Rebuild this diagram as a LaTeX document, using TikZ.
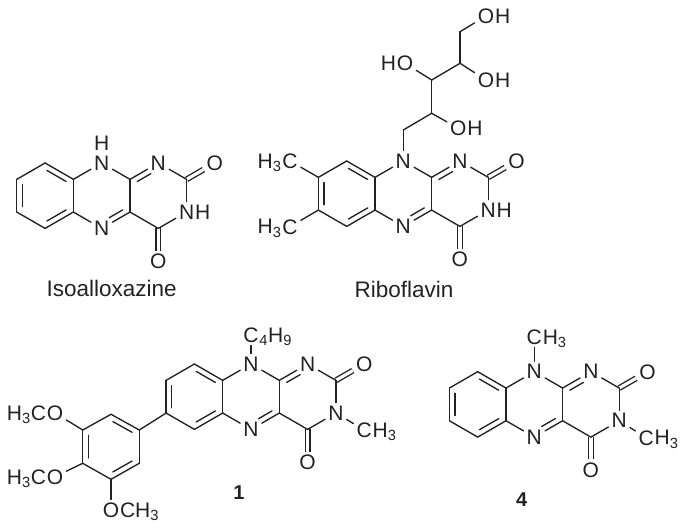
\documentclass[tikz,border=0pt]{standalone}
\usepackage{fontspec}
\setmainfont{Liberation Sans}
\usetikzlibrary{positioning,calc}
\definecolor{ink}{HTML}{222222}
\newcommand{\dbl}[3][0.16]{\draw[bond]($(#2)!0.16!(#3)!5.5pt!-90:(#3)$)--($(#3)!#1!(#2)!5.5pt!90:(#2)$);}
\tikzset{
bond/.style={draw=ink,line width=1.35pt,line cap=round},
cobond/.style={draw=ink,line width=1.35pt,double,double distance=3.2pt},
atom/.style={inner sep=3pt,text=ink,text depth=0pt,font=\fontsize{21}{25}\selectfont},
tail/.style={inner sep=0pt,text=ink,text depth=0pt,font=\fontsize{21}{25}\selectfont},
caption/.style={inner sep=0pt,text=ink,text depth=0pt,font=\fontsize{22.5}{26}\selectfont},
compound/.style={inner sep=0pt,text=ink,font=\fontsize{20}{24}\selectfont\bfseries},
flavin/.pic={
\path
(0,0) node[atom] (-n10) {N}
(28.3,16.35) coordinate (-c10a)
(28.3,49.05) coordinate (-c4a)
(0,65.4) node[atom] (-n5) {N}
(-28.3,49.05) coordinate (-c5a)
(-28.3,16.35) coordinate (-c9a)
(-56.6,0) coordinate (-c9)
(-84.9,16.35) coordinate (-c8)
(-84.9,49.05) coordinate (-c7)
(-56.6,65.4) coordinate (-c6)
(56.6,0) node[atom] (-n1) {N}
(84.9,16.35) coordinate (-c2)
(84.9,49.05) node[atom] (-n3) {N}
(56.6,65.4) coordinate (-c4)
(113.2,0) node[atom] (-o2) {O}
(56.6,98.1) node[atom] (-o4) {O}
;
\draw[cobond] (-c2)--(-o2);
\draw[cobond] (-c4)--(-o4);
\foreach \a/\b in {n10/c10a,c10a/n1,n1/c2,c2/n3,n3/c4,c4/c4a,c4a/c10a,c4a/n5,n5/c5a,c5a/c9a,c9a/n10,c9a/c9,c9/c8,c8/c7,c7/c6,c6/c5a}
\draw[bond] (-\a)--(-\b);
\dbl{-c9}{-c9a}
\dbl{-c7}{-c8}
\dbl{-c5a}{-c6}
\dbl[0.36]{-c10a}{-n1}
\dbl[0.36]{-c4a}{-n5}
}
}
\begin{document}
\begin{tikzpicture}[x=1pt,y=-1pt]
\useasboundingbox (0,0) rectangle (685,529);
% isoalloxazine
\pic (iso) at (101.7,163) {flavin};
\node[tail,above=2pt of iso-n10] (iso-h10) {H};
\node[tail,right=-2.5pt of iso-n3] (iso-h3) {H};
\node[caption] (isoname) at (111.7,288) {Isoalloxazine};
% riboflavin
\pic (rib) at (403.3,161) {flavin};
\node[tail,right=-2.5pt of rib-n3] (rib-h3) {H};
\node[caption] (ribname) at (404,289) {Riboflavin};
\path
(290,161) node[atom] (me8) {C}
(290,226.7) node[atom] (me7) {C}
(403.3,130) coordinate (s1)
(431.7,113.3) coordinate (s2)
(431.7,80) coordinate (s3)
(460,63.3) coordinate (s4)
(460,31.7) coordinate (s5)
(486,16) node[atom] (oh5) {O}
(486,80) node[atom] (oh4) {O}
(405,63.3) node[atom] (oh3) {O}
(458.3,128.3) node[atom] (oh2) {O}
;
\node[tail,left=-2.5pt of me8] (h8) {H\textsubscript{3}};
\node[tail,left=-2.5pt of me7] (h7) {H\textsubscript{3}};
\node[tail,right=-2.5pt of oh5] (h5) {H};
\node[tail,right=-2.5pt of oh4] (h4) {H};
\node[tail,left=-2.5pt of oh3] (h3) {H};
\node[tail,right=-2.5pt of oh2] (h2) {H};
\foreach \a/\b in {rib-c8/me8,rib-c7/me7,rib-n10/s1,s1/s2,s2/s3,s3/s4,s4/s5,s5/oh5,s4/oh4,s3/oh3,s2/oh2}
\draw[bond] (\a)--(\b);
% compound 1
\pic (one) at (251,364) {flavin};
\path
(251,335) node[atom] (bu) {C}
($(one-n3)+(28.3,17)$) node[atom] (me3) {C}
(139.3,430) coordinate (ph1)
(111,414.3) coordinate (ph2)
(82.7,430) coordinate (ph3)
(82.7,463.3) coordinate (ph4)
(111,479.3) coordinate (ph5)
(139.3,463.3) coordinate (ph6)
(55,413) node[atom] (ome3) {O}
(55,476.7) node[atom] (ome4) {O}
(111,510) node[atom] (ome5) {O}
;
\node[tail,right=-2.5pt of bu] (bu-r) {\textsubscript{4}H\textsubscript{9}};
\node[tail,right=-2.5pt of me3] (me3-h) {H\textsubscript{3}};
\node[tail,left=-2.5pt of ome3] (me-a) {H\textsubscript{3}C};
\node[tail,left=-2.5pt of ome4] (me-b) {H\textsubscript{3}C};
\node[tail,right=-2.5pt of ome5] (me-c) {CH\textsubscript{3}};
\foreach \a/\b in {one-n10/bu,one-n3/me3,one-c7/ph1,ph1/ph2,ph2/ph3,ph3/ph4,ph4/ph5,ph5/ph6,ph6/ph1,ph3/ome3,ph4/ome4,ph5/ome5}
\draw[bond] (\a)--(\b);
\dbl{ph2}{ph1}
\dbl{ph4}{ph3}
\dbl{ph6}{ph5}
\node[compound] (label1) at (239,493) {1};
% compound 4
\pic (four) at (534.3,371.7) {flavin};
\path
(534.3,337) node[atom] (top) {C}
($(four-n3)+(27,17)$) node[atom] (me) {C}
;
\node[tail,right=-2.5pt of top] (top-h) {H\textsubscript{3}};
\node[tail,right=-2.5pt of me] (me-h) {H\textsubscript{3}};
\draw[bond] (four-n10)--(top);
\draw[bond] (four-n3)--(me);
\node[compound] (label4) at (521.7,499.3) {4};
\end{tikzpicture}
\end{document}
